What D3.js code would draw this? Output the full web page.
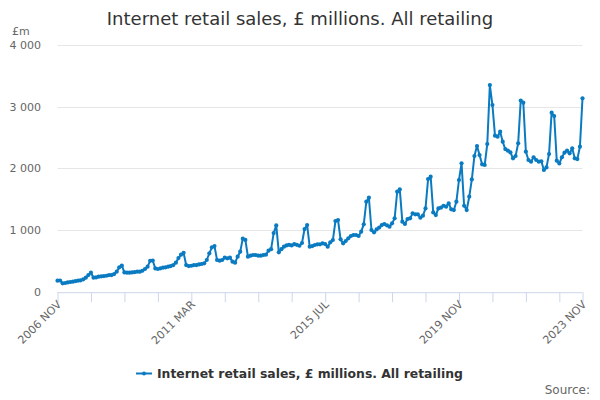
<!DOCTYPE html>
<html>
<head>
<meta charset="utf-8">
<script src="https://cdn.jsdelivr.net/npm/d3@7"></script>
<style>
  html, body { margin: 0; padding: 0; background: #fff; }
  svg { display: block; font-family: "DejaVu Sans", sans-serif; }
</style>
</head>
<body>
<svg id="chart" width="600" height="400"></svg>
<script>
// ---- data ----
const title = "Internet retail sales, £ millions. All retailing";
const seriesName = "Internet retail sales, £ millions. All retailing";
const unitLabel = "£m";
const startYear = 2006, startMonth = 10; // November 2006 (0-based month)
const monthNames = ["JAN","FEB","MAR","APR","MAY","JUN","JUL","AUG","SEP","OCT","NOV","DEC"];
const values = [
  // 2006 Nov-Dec
  178, 182,
  // 2007
  135, 141, 151, 157, 162, 173, 178, 184, 200, 227, 270, 308,
  // 2008
  227, 232, 243, 249, 254, 259, 270, 270, 286, 324, 395, 422,
  // 2009
  313, 308, 308, 313, 319, 324, 324, 340, 368, 405, 500, 505,
  // 2010
  378, 368, 379, 390, 395, 405, 416, 432, 470, 545, 600, 630,
  // 2011
  432, 416, 421, 432, 432, 443, 449, 460, 514, 622, 720, 740,
  // 2012
  514, 503, 514, 552, 541, 552, 487, 470, 568, 649, 860, 840,
  // 2013
  568, 584, 595, 595, 584, 584, 595, 600, 665, 690, 950, 1075,
  // 2014
  638, 690, 730, 750, 760, 750, 770, 760, 745, 790, 1016, 1081,
  // 2015
  730, 740, 757, 768, 768, 784, 773, 730, 800, 838, 1146, 1162,
  // 2016
  849, 784, 822, 865, 903, 919, 919, 903, 973, 1092, 1459, 1524,
  // 2017
  1000, 962, 1010, 1040, 1081, 1098, 1076, 1054, 1108, 1189, 1621, 1659,
  // 2018
  1135, 1098, 1179, 1189, 1270, 1254, 1254, 1200, 1232, 1351, 1827, 1865,
  // 2019
  1286, 1243, 1351, 1362, 1394, 1378, 1432, 1335, 1324, 1459, 1811, 2081,
  // 2020
  1394, 1324, 1540, 1821, 2200, 2362, 2216, 2065, 2054, 2395, 3351, 3027,
  // 2021
  2530, 2513, 2594, 2432, 2313, 2286, 2259, 2162, 2200, 2405, 3100, 3065,
  // 2022
  2270, 2135, 2108, 2180, 2135, 2108, 2115, 1973, 2015, 2233, 2903, 2849,
  // 2023
  2124, 2080, 2180, 2254, 2286, 2243, 2325, 2162, 2151, 2351, 3136
];
const yTicks = [0, 1000, 2000, 3000, 4000];
const tickEvery = 13;      // tick mark interval (months)
const labelEvery = 52;     // label interval (months)
const sourceText = "Source:";

// ---- build ----
const categories = values.map((v, i) => {
  const m = startMonth + i;
  const y = startYear + Math.floor(m / 12);
  return y + " " + monthNames[m % 12];
});

const svg = d3.select("#chart");
const W = 600, H = 400;
const margin = { left: 57.5, right: 17.5, top: 45, bottom: 108.3 };
const plotW = W - margin.left - margin.right;
const plotH = H - margin.top - margin.bottom;

const x = d3.scalePoint().domain(d3.range(values.length)).range([margin.left, margin.left + plotW]);
const y = d3.scaleLinear().domain([0, 4000]).range([margin.top + plotH, margin.top]);

const color = "#0a7bc1";
const fmt = d => d3.format(",")(d).replace(/,/g, " ");

// title
svg.append("text").attr("x", 300).attr("y", 25).attr("text-anchor", "middle")
  .attr("fill", "#333").style("font-size", "18px").text(title);

// unit label
svg.append("text").attr("x", 12).attr("y", 35).attr("fill", "#666")
  .style("font-size", "11px").text(unitLabel);

// gridlines
svg.append("g").selectAll("line").data(yTicks.filter(d => d > 0)).join("line")
  .attr("x1", margin.left).attr("x2", margin.left + plotW)
  .attr("y1", d => Math.round(y(d)) + 0.5).attr("y2", d => Math.round(y(d)) + 0.5)
  .attr("stroke", "#e6e6e6").attr("stroke-width", 1);

// y labels
svg.append("g").selectAll("text").data(yTicks).join("text")
  .attr("x", 41).attr("y", d => y(d) + 4).attr("text-anchor", "end")
  .attr("fill", "#666").style("font-size", "11px").text(fmt);

// x axis
const tickIdx = d3.range(0, values.length, tickEvery);
if (tickIdx[tickIdx.length - 1] !== values.length - 1) tickIdx.push(values.length - 1);
const labelIdx = d3.range(0, values.length, labelEvery);
if (labelIdx[labelIdx.length - 1] !== values.length - 1) labelIdx.push(values.length - 1);

const xAxis = d3.axisBottom(x).tickValues(tickIdx).tickSize(10)
  .tickFormat(i => labelIdx.includes(i) ? categories[i] : "");
const gx = svg.append("g").attr("transform", `translate(0,${margin.top + plotH + 0.5})`).call(xAxis);
gx.select(".domain").attr("stroke", "#ccd6eb").attr("d", `M${margin.left},0.5H${margin.left + plotW}`);
gx.selectAll(".tick line").attr("stroke", "#ccd6eb");
gx.selectAll(".tick text")
  .attr("fill", "#666").style("font-size", "11px").style("font-family", "DejaVu Sans, sans-serif")
  .attr("text-anchor", "end").attr("dy", null).attr("y", 0)
  .attr("transform", "translate(4,13) rotate(-45)");

// line
const line = d3.line().x((d, i) => x(i)).y(d => y(d));
svg.append("path").datum(values).attr("d", line)
  .attr("fill", "none").attr("stroke", color).attr("stroke-width", 2)
  .attr("stroke-linejoin", "round");
svg.append("g").selectAll("circle").data(values).join("circle")
  .attr("cx", (d, i) => x(i)).attr("cy", d => y(d)).attr("r", 2.1).attr("fill", color);

// legend
const lg = svg.append("g");
lg.append("line").attr("x1", 136).attr("x2", 152).attr("y1", 373.5).attr("y2", 373.5)
  .attr("stroke", color).attr("stroke-width", 2);
lg.append("circle").attr("cx", 144).attr("cy", 373.5).attr("r", 2).attr("fill", color);
lg.append("text").attr("x", 157).attr("y", 378).attr("fill", "#333")
  .style("font-size", "12.4px").style("font-weight", "bold").text(seriesName);

// source
svg.append("text").attr("x", 590).attr("y", 394).attr("text-anchor", "end")
  .attr("fill", "#666").style("font-size", "12px").text(sourceText);
</script>
</body>
</html>
